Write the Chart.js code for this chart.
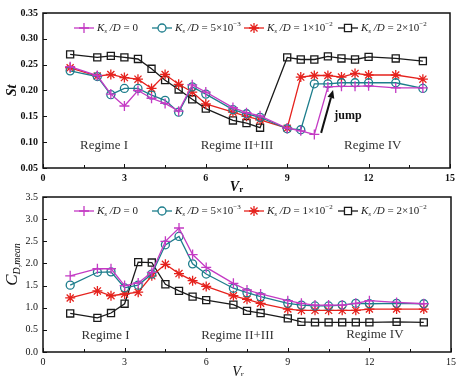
<!DOCTYPE html>
<html><head><meta charset="utf-8">
<script src="https://cdn.jsdelivr.net/npm/chart.js@4.4.0/dist/chart.umd.min.js"></script>
<style>
html,body{margin:0;padding:0;background:#fff;width:474px;height:376px;overflow:hidden;position:relative}
#c1{position:absolute;left:0;top:0}
#c2{position:absolute;left:0;top:186px}
</style></head><body>
<canvas id="c1" width="474" height="196"></canvas>
<canvas id="c2" width="474" height="194"></canvas>
<script>
// ---------- data ----------
const vr = [1,2,2.5,3,3.5,4,4.5,5,5.5,6,7,7.5,8,9,9.5,10,10.5,11,11.5,12,13,14];

const st0  = [0.246,0.229,0.193,0.170,0.200,0.185,0.175,0.160,0.211,0.197,0.167,0.157,0.151,0.127,0.122,0.115,0.207,0.208,0.208,0.209,0.205,0.205];
const st5  = [0.238,0.227,0.192,0.204,0.204,0.191,0.181,0.158,0.207,0.193,0.163,0.155,0.148,0.126,0.124,0.213,0.213,0.215,0.215,0.215,0.215,0.204];
const st10 = [0.244,0.228,0.231,0.225,0.222,0.204,0.231,0.212,0.197,0.174,0.158,0.150,0.143,0.127,0.226,0.229,0.229,0.226,0.233,0.230,0.230,0.222];
const st20 = [0.270,0.264,0.267,0.264,0.261,0.242,0.220,0.202,0.183,0.165,0.142,0.137,0.128,0.264,0.260,0.260,0.266,0.262,0.260,0.265,0.262,0.257];

const cd0  = [1.72,1.88,1.88,1.50,1.56,1.80,2.50,2.80,2.20,1.91,1.55,1.40,1.31,1.16,1.10,1.06,1.06,1.06,1.10,1.16,1.12,1.09];
const cd5  = [1.51,1.80,1.81,1.45,1.51,1.76,2.42,2.61,1.99,1.76,1.44,1.34,1.25,1.10,1.06,1.04,1.04,1.06,1.10,1.09,1.10,1.09];
const cd10 = [1.22,1.38,1.27,1.31,1.35,1.72,1.98,1.77,1.61,1.48,1.27,1.19,1.10,0.97,0.94,0.94,0.94,0.94,0.94,0.97,0.97,0.97];
const cd20 = [0.87,0.77,0.88,1.09,2.03,2.02,1.53,1.38,1.25,1.17,1.07,0.93,0.88,0.76,0.68,0.67,0.67,0.67,0.67,0.67,0.68,0.67];

const legendValues = ['0','5×10','1×10','2×10'];
const legendExps   = ['','−3','−2','−2'];

const xRange = [0,15], xStep = 3;
const stRange = [0.05,0.35], stStep = 0.05;
const cdRange = [0,3.5], cdStep = 0.5;

const stNotes = [{t:'Regime I',x:2.25,y:0.093},{t:'Regime II+III',x:7.15,y:0.093},{t:'Regime IV',x:12.15,y:0.093}];
const cdNotes = [{t:'Regime I',x:2.3,y:0.36},{t:'Regime II+III',x:7.15,y:0.36},{t:'Regime IV',x:12.2,y:0.40}];
const jumpArrow = {x0:10.25,y0:0.118,x1:10.69,y1:0.201,tx:11.24,ty:0.151,t:'jump'};

// ---------- style ----------
const colors = ['#c43ac4','#1d7d8c','#e5221d','#1a1a1a'];
const pStyles = ['cross','circle','star','rect'];
const pRadius = [5,4,5,5];
const SERIF = '"Liberation Serif","Times New Roman",serif';

function mkDatasets(arrs){
  return arrs.map((a,i)=>({
    label:'K'+i,
    data: vr.map((x,j)=>({x:x,y:a[j]})),
    borderColor: colors[i],
    backgroundColor: i===1||i===3 ? 'rgba(255,255,255,0)' : colors[i],
    borderWidth:1.3,
    pointStyle:pStyles[i],
    pointRadius:pRadius[i],
    pointBorderWidth:1.3,
    pointBorderColor:colors[i],
    pointBackgroundColor: i===1||i===3 ? 'rgba(255,255,255,0)' : colors[i],
    tension:0
  }));
}

function drawRich(ctx, x, y, parts, align){
  let w=0;
  parts.forEach(p=>{ctx.font=p.f; w+=ctx.measureText(p.t).width;});
  let cx = align==='center' ? x - w/2 : x;
  ctx.textBaseline='middle'; ctx.textAlign='left';
  parts.forEach(p=>{ctx.font=p.f; ctx.fillText(p.t,cx,y+(p.dy||0)); cx+=ctx.measureText(p.t).width;});
}

function legendParts(i){
  const parts=[
    {t:'K',f:'italic 11px '+SERIF},
    {t:'s',f:'italic 7px '+SERIF,dy:3},
    {t:' /D',f:'italic 11px '+SERIF},
    {t:' = '+legendValues[i],f:'11px '+SERIF}
  ];
  if(legendExps[i]) parts.push({t:legendExps[i],f:'7px '+SERIF,dy:-4});
  return parts;
}

function decor(cfg){
  return {
    id:'decor',
    beforeDatasetsDraw(chart){
      const {ctx, chartArea:a, scales:{x,y}} = chart;
      ctx.save();
      ctx.strokeStyle='#111'; ctx.lineWidth=1.5;
      ctx.strokeRect(a.left,a.top,a.right-a.left,a.bottom-a.top);
      ctx.lineWidth=1;
      for(let v=xRange[0]; v<=xRange[1]+1e-9; v+=xStep/2){
        const px=Math.round(x.getPixelForValue(v))+0.5;
        const len = (Math.abs(v/xStep-Math.round(v/xStep))<1e-6)?4:3;
        ctx.beginPath(); ctx.moveTo(px,a.bottom); ctx.lineTo(px,a.bottom-len); ctx.stroke();
      }
      y.ticks.forEach(t=>{
        const py=Math.round(y.getPixelForValue(t.value))+0.5;
        ctx.beginPath(); ctx.moveTo(a.left,py); ctx.lineTo(a.left+4,py); ctx.stroke();
      });
      ctx.restore();
    },
    afterDraw(chart){
      const {ctx, chartArea:a, scales:{x,y}} = chart;
      ctx.save();
      ctx.fillStyle='#222';
      // legend
      const offs=[31,109,201,295];
      const ly=a.top+cfg.legendDy;
      offs.forEach((o,i)=>{
        const lx=a.left+o;
        ctx.strokeStyle=colors[i]; ctx.lineWidth=1.3;
        ctx.beginPath(); ctx.moveTo(lx,ly); ctx.lineTo(lx+20,ly); ctx.stroke();
        ctx.fillStyle= (i===1||i===3)?'#fff':colors[i];
        Chart.helpers.drawPoint(ctx,{pointStyle:pStyles[i],radius:pRadius[i],borderWidth:1.3,rotation:0},lx+10,ly);
        ctx.fillStyle='#222';
        drawRich(ctx,lx+23,ly,legendParts(i),'left');
      });
      // regime labels
      ctx.fillStyle='#333';
      cfg.notes.forEach(n=>{
        drawRich(ctx,x.getPixelForValue(n.x),y.getPixelForValue(n.y),[{t:n.t,f:'13px '+SERIF}],'center');
      });
      // jump arrow
      if(cfg.jump){
        const j=cfg.jump;
        const x0=x.getPixelForValue(j.x0), y0=y.getPixelForValue(j.y0);
        const x1=x.getPixelForValue(j.x1), y1=y.getPixelForValue(j.y1);
        const ang=Math.atan2(y1-y0,x1-x0);
        ctx.strokeStyle='#111'; ctx.fillStyle='#111'; ctx.lineWidth=2;
        const hx=x1-8*Math.cos(ang), hy=y1-8*Math.sin(ang);
        ctx.beginPath(); ctx.moveTo(x0,y0); ctx.lineTo(hx,hy); ctx.stroke();
        ctx.beginPath(); ctx.moveTo(x1,y1);
        ctx.lineTo(hx+3.5*Math.sin(ang),hy-3.5*Math.cos(ang));
        ctx.lineTo(hx-3.5*Math.sin(ang),hy+3.5*Math.cos(ang));
        ctx.closePath(); ctx.fill();
        ctx.fillStyle='#111';
        drawRich(ctx,x.getPixelForValue(j.tx),y.getPixelForValue(j.ty),[{t:j.t,f:'bold 12px '+SERIF}],'center');
      }
      // x title
      ctx.fillStyle='#111';
      drawRich(ctx,(a.left+a.right)/2+cfg.xTitleDx,cfg.xTitleY,[
        {t:'V',f:(cfg.bold?'bold ':'')+'italic 14px '+SERIF},
        {t:'r',f:(cfg.bold?'bold ':'')+'9px '+SERIF,dy:3}],'center');
      // y title
      ctx.translate(cfg.yTitleX,(a.top+a.bottom)/2+cfg.yTitleDy);
      ctx.rotate(-Math.PI/2);
      drawRich(ctx,0,0,cfg.yParts,'center');
      ctx.restore();
    }
  };
}

function mkChart(id,arrs,yr,ystep,dec,bold,pad,cfg){
  return new Chart(document.getElementById(id),{
    type:'line',
    data:{datasets:mkDatasets(arrs)},
    options:{
      responsive:false, animation:false, devicePixelRatio:1,
      layout:{padding:pad},
      plugins:{legend:{display:false},tooltip:{enabled:false}},
      scales:{
        x:{type:'linear',min:xRange[0],max:xRange[1],
           ticks:{stepSize:xStep,padding:4,color:'#111',font:{family:SERIF,size:10,weight:bold?'bold':'normal'},callback:v=>String(v)},
           grid:{display:false,drawTicks:false},border:{display:false},
           afterFit:s=>{s.height=28;}},
        y:{type:'linear',min:yr[0],max:yr[1],
           ticks:{stepSize:ystep,padding:5,color:'#111',font:{family:SERIF,size:10,weight:bold?'bold':'normal'},callback:v=>Number(v).toFixed(dec)},
           grid:{display:false,drawTicks:false},border:{display:false},
           afterFit:s=>{s.width=43;}}
      }
    },
    plugins:[decor(cfg)]
  });
}

mkChart('c1',[st0,st5,st10,st20],stRange,stStep,2,true,{left:0,right:24,top:13,bottom:0},{
  legendDy:15, notes:stNotes, jump:jumpArrow, bold:true, xTitleY:187, xTitleDx:-10, yTitleX:12, yTitleDy:0,
  yParts:[{t:'St',f:'bold italic 14px '+SERIF}]
});
mkChart('c2',[cd0,cd5,cd10,cd20],cdRange,cdStep,1,false,{left:0,right:23,top:10,bottom:0},{
  legendDy:14, notes:cdNotes, jump:null, bold:false, xTitleY:186, xTitleDx:-9, yTitleX:13, yTitleDy:-10,
  yParts:[{t:'C',f:'italic 17px '+SERIF},{t:'D,mean',f:'italic 10px '+SERIF,dy:4}]
});
</script>
</body></html>
